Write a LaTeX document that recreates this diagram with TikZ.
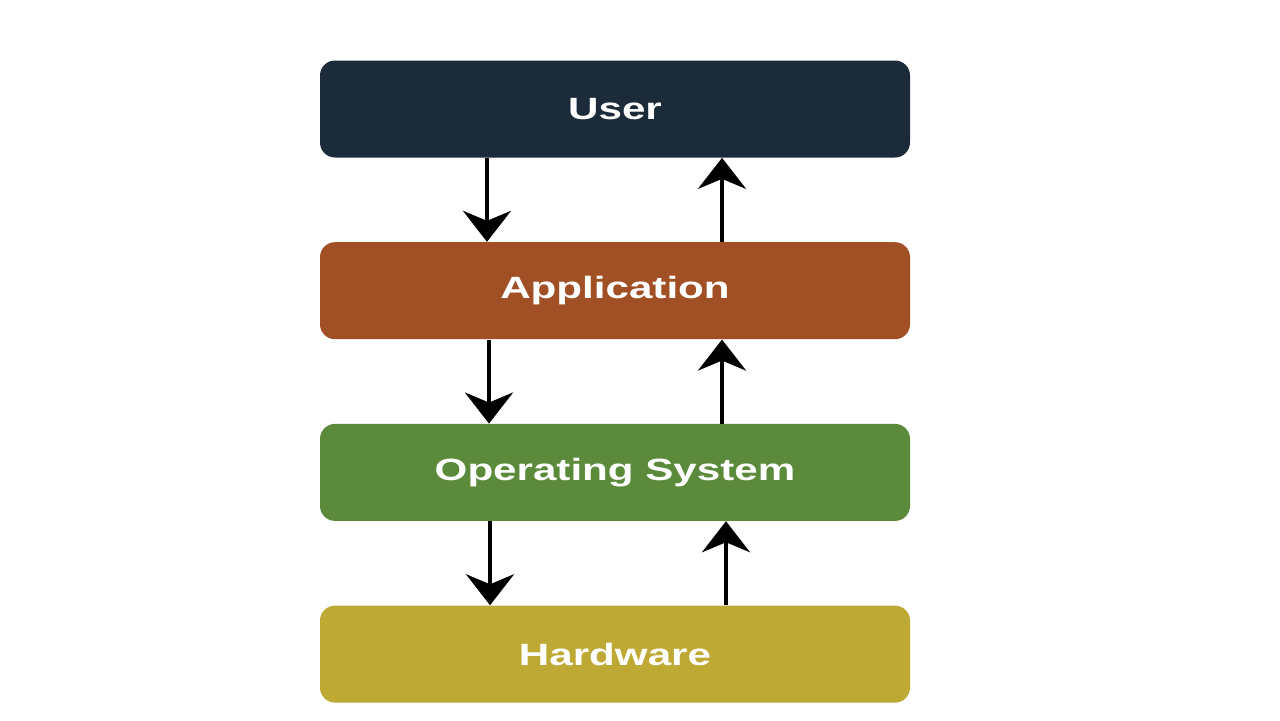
\documentclass[tikz,border=0pt]{standalone}
\usepackage{fontspec}
\setmainfont{Liberation Sans}
\newfontfamily\layerfont[FakeStretch=1.37]{Liberation Sans Bold}
\usetikzlibrary{positioning,arrows.meta}

\definecolor{usercol}{HTML}{1C2B3A}
\definecolor{appcol}{HTML}{A15026}
\definecolor{oscol}{HTML}{5B8A3A}
\definecolor{hwcol}{HTML}{BEA935}

\begin{document}
\begin{tikzpicture}
        \tikzset{layer/.style={draw=none,rounded corners=0.3cm,minimum width=11.8cm,
                minimum height=1.94cm,text=white,font=\layerfont\fontsize{17.5}{20}\selectfont},
            flow/.style={line width=0.08cm,-{Stealth[length=0.62cm,width=0.96cm,inset=0.2cm]}},
            node distance=1.68cm}
        \useasboundingbox[fill=white] (0,0) rectangle (25.6,-14.4);
        \node[layer,fill=usercol] (user) at (12.3,-2.18) {User};
        \node[layer,fill=appcol,below=of user] (app) {Application};
        \node[layer,fill=oscol,below=of app] (os) {Operating System};
        \node[layer,fill=hwcol,below=of os] (hw) {Hardware};
        % downward and upward flow between layers
        \draw[flow] ([xshift=-2.56cm]user.south) -- ([xshift=-2.56cm]app.north);
        \draw[flow] ([xshift=2.14cm]app.north) -- ([xshift=2.14cm]user.south);
        \draw[flow] ([xshift=-2.52cm]app.south) -- ([xshift=-2.52cm]os.north);
        \draw[flow] ([xshift=2.14cm]os.north) -- ([xshift=2.14cm]app.south);
        \draw[flow] ([xshift=-2.5cm]os.south) -- ([xshift=-2.5cm]hw.north);
        \draw[flow] ([xshift=2.22cm]hw.north) -- ([xshift=2.22cm]os.south);
    \end{tikzpicture}
\end{document}
